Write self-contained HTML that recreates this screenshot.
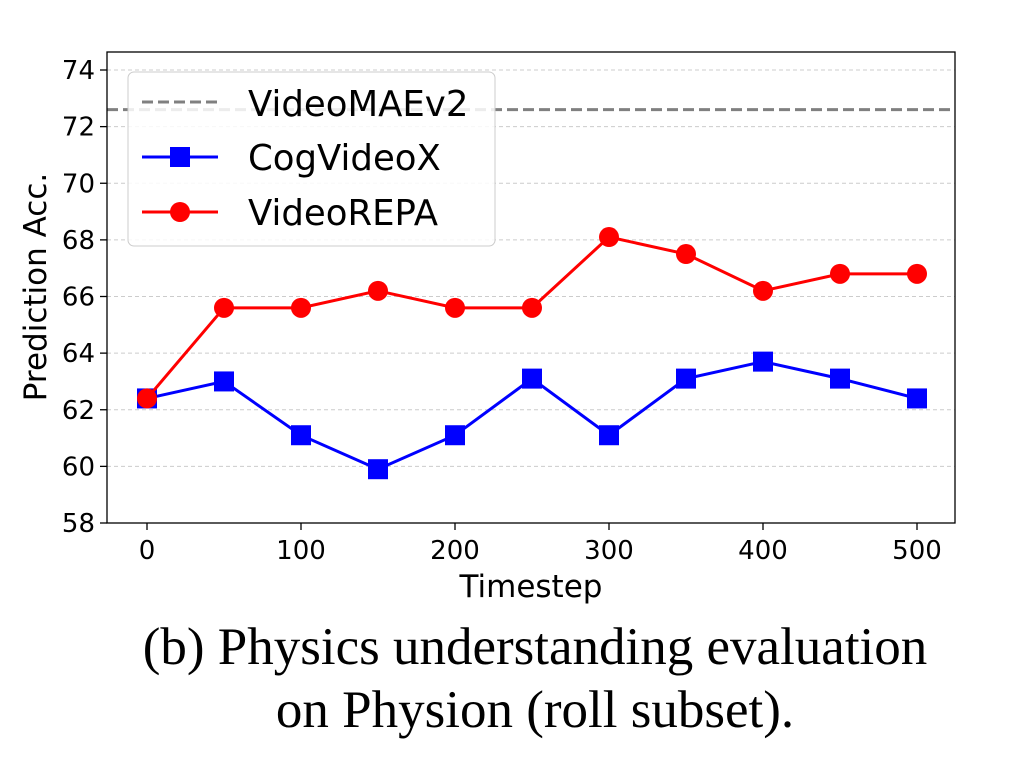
<!DOCTYPE html>
<html><head><meta charset="utf-8"><style>
html,body{margin:0;padding:0;background:#fff;width:1010px;height:768px;overflow:hidden}
svg text{font-family:"DejaVu Sans","Liberation Sans",sans-serif}
</style></head><body>
<svg id="c" width="1010" height="768">
<g id="grid"></g>
<g id="series"></g>
<rect x="107" y="52" width="848" height="471" fill="none" stroke="#000" stroke-width="1.3"/>
<g id="axes"></g>
<g>
<rect x="128" y="72" width="367" height="174" rx="6" fill="#fff" fill-opacity="0.85" stroke="#ccc"/>
<line x1="142" y1="102" x2="218" y2="102" stroke="#808080" stroke-width="3" stroke-dasharray="11,5"/>
<text x="248" y="116" font-size="35.5">VideoMAEv2</text>
<line x1="142" y1="157" x2="218" y2="157" stroke="#0000ff" stroke-width="3"/>
<rect x="170" y="147" width="20" height="20" fill="#0000ff"/>
<text x="248" y="170" font-size="35.5">CogVideoX</text>
<line x1="142" y1="212" x2="218" y2="212" stroke="#ff0000" stroke-width="3"/>
<circle cx="180" cy="212" r="10" fill="#ff0000"/>
<text x="248" y="225" font-size="35.5">VideoREPA</text>
</g>
<text x="531" y="597" font-size="31" text-anchor="middle">Timestep</text>
<text transform="translate(46,287) rotate(-90)" font-size="31" text-anchor="middle">Prediction Acc.</text>
<text x="535" y="664" font-size="53" text-anchor="middle" style="font-family:'Liberation Serif',serif">(b) Physics understanding evaluation</text>
<text x="535" y="727" font-size="53" text-anchor="middle" style="font-family:'Liberation Serif',serif">on Physion (roll subset).</text>
</svg>
<script>
const timesteps=[0,50,100,150,200,250,300,350,400,450,500];
const cogVideoX=[62.4,63.0,61.1,59.9,61.1,63.1,61.1,63.1,63.7,63.1,62.4];
const videoREPA=[62.4,65.6,65.6,66.2,65.6,65.6,68.1,67.5,66.2,66.8,66.8];
const videoMAEv2=72.6;
const yTicks=[58,60,62,64,66,68,70,72,74];
const xTicks=[0,100,200,300,400,500];
const NS="http://www.w3.org/2000/svg";
const X=v=>147+v*(917-147)/500;
const Y=v=>523-(v-58)*(523-70)/16;
function mk(t,a,p){const e=document.createElementNS(NS,t);for(const k in a)e.setAttribute(k,a[k]);p.appendChild(e);return e;}
const grid=document.getElementById('grid'),axes=document.getElementById('axes'),ser=document.getElementById('series');
yTicks.forEach(v=>{
 const g=mk('line',{x1:107,x2:955,y1:Y(v),y2:Y(v),stroke:'#ccc','stroke-dasharray':'4,3','stroke-width':1},grid);
 
 
 const t=mk('line',{x1:100,x2:107,y1:Y(v),y2:Y(v),stroke:'#000','stroke-width':1.3},axes);
 
 
 const l=mk('text',{x:95,y:Y(v)+9,'font-size':26,'text-anchor':'end'},axes);l.textContent=v;
 
 
});
xTicks.forEach(v=>{
 const t=mk('line',{x1:X(v),x2:X(v),y1:523,y2:530,stroke:'#000','stroke-width':1.3},axes);
 
 
 const l=mk('text',{x:X(v),y:559,'font-size':26,'text-anchor':'middle'},axes);l.textContent=v;
 
 
});
const ref=mk('line',{x1:107,x2:955,y1:Y(videoMAEv2),y2:Y(videoMAEv2),stroke:'#808080','stroke-width':3,'stroke-dasharray':'11,5'},ser);


function series(vals,col,shape,name){
 const pl=mk('polyline',{points:vals.map((v,i)=>X(timesteps[i])+','+Y(v)).join(' '),fill:'none',stroke:col,'stroke-width':3},ser);
 
 
 vals.forEach((v,i)=>{
  const m=shape==='sq'?mk('rect',{x:X(timesteps[i])-10,y:Y(v)-10,width:20,height:20,fill:col},ser):mk('circle',{cx:X(timesteps[i]),cy:Y(v),r:10,fill:col},ser);
  
  
 });
}
series(cogVideoX,'#0000ff','sq','cogvideox');
series(videoREPA,'#ff0000','c','videorepa');
</script>
</body></html>
